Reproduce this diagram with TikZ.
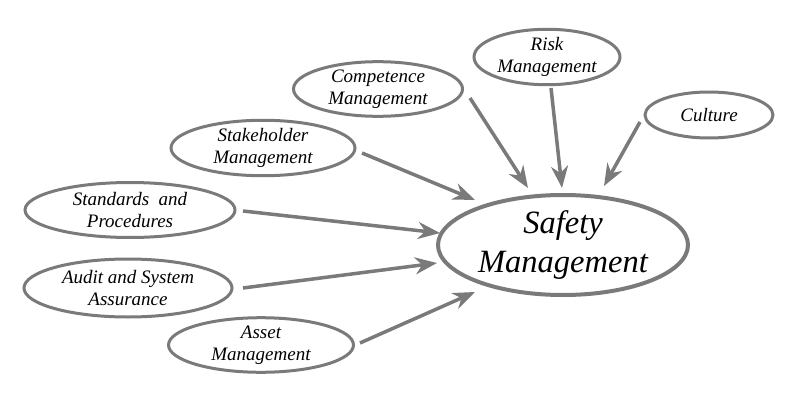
\documentclass[tikz,border=0pt]{standalone}
\usepackage{fontspec}
\setmainfont{Liberation Serif}
\usetikzlibrary{shapes.geometric,arrows.meta}
\definecolor{brush}{HTML}{7A7A7A}
\tikzset{
  oval/.style={ellipse, draw=brush, line width=3pt, inner sep=0pt, align=center,
    font=\fontsize{19}{22}\selectfont\itshape},
  bigoval/.style={ellipse, draw=brush, line width=4pt, inner sep=0pt, align=center,
    font=\fontsize{32.5}{39}\selectfont\itshape},
  arr/.style={draw=brush, line width=3.5pt, -{Stealth[length=22pt,width=17pt]}}
}
\begin{document}
\begin{tikzpicture}[x=1pt,y=-1pt]
\useasboundingbox (0,0) rectangle (800,409);
\node[bigoval, minimum width=250, minimum height=100] (safety) at (563,245) {Safety\\Management};
\node[oval, minimum width=146, minimum height=46] (risk) at (547,57) {Risk\\Management};
\node[oval, minimum width=128, minimum height=46] (culture) at (709,115) {Culture};
\node[oval, minimum width=169, minimum height=53] (comp) at (378,89) {Competence\\Management};
\node[oval, minimum width=184, minimum height=52] (stake) at (263,148) {Stakeholder\\Management};
\node[oval, minimum width=210, minimum height=55] (stand) at (130,210) {Standards~ and\\Procedures};
\node[oval, minimum width=208, minimum height=58] (audit) at (128,288) {Audit and System\\Assurance};
\node[oval, minimum width=185, minimum height=52] (asset) at (261,345) {Asset\\Management};
\coordinate (compT) at (470,98);   \coordinate (compH) at (528,188);
\coordinate (riskT) at (551,88);   \coordinate (riskH) at (562,188);
\coordinate (cultT) at (640,122);  \coordinate (cultH) at (604,186);
\coordinate (stakeT) at (362,153); \coordinate (stakeH) at (475,200);
\coordinate (standT) at (243,211); \coordinate (standH) at (440,233);
\coordinate (auditT) at (243,288); \coordinate (auditH) at (437,263);
\coordinate (assetT) at (360,343); \coordinate (assetH) at (475,292);
\draw[arr] (compT) -- (compH);
\draw[arr] (riskT) -- (riskH);
\draw[arr] (cultT) -- (cultH);
\draw[arr] (stakeT) -- (stakeH);
\draw[arr] (standT) -- (standH);
\draw[arr] (auditT) -- (auditH);
\draw[arr] (assetT) -- (assetH);
\end{tikzpicture}
\end{document}
